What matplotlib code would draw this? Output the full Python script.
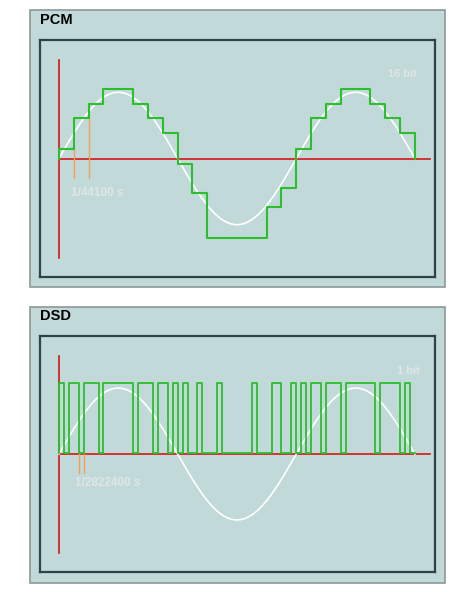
import matplotlib
matplotlib.use('Agg')
import matplotlib.pyplot as plt
import numpy as np
from matplotlib.patches import Rectangle

plt.rcParams['font.family'] = ['Liberation Sans', 'DejaVu Sans']

# signal: 1.5 periods of a sine, time in periods
n_periods = 1.5
# PCM: 16 samples per period, held levels (sine amplitude = 1)
pcm_rate = 16
pcm_levels = [0.15, 0.61, 0.82, 1.05, 1.05, 0.82, 0.61, 0.38,
              -0.08, -0.52, -1.2, -1.2, -1.2, -1.2, -0.74, -0.45,
              0.15, 0.61, 0.82, 1.05, 1.05, 0.82, 0.61, 0.38]
# DSD: 48 bits per period
dsd_rate = 48
dsd_bits = [1, 0, 1, 1, 0, 1, 1, 1, 0, 1, 1, 1, 1, 1, 1, 0, 1, 1, 1, 0,
            1, 1, 0, 1, 0, 1, 0, 0, 1, 0, 0, 0, 1, 0, 0, 0, 0, 0, 0, 1,
            0, 0, 0, 1, 1, 0, 0, 1, 0, 1, 0, 1, 1, 0, 1, 1, 1, 0, 1, 1,
            1, 1, 1, 1, 0, 1, 1, 1, 1, 0, 1, 0]
dsd_high = 1.05

titles = ['PCM', 'DSD']
time_labels = ['1/44100 s', '1/2822400 s']
bit_labels = ['16 bit', '1 bit']

panel_bg = '#c1d9d9'
green = '#2cbf2c'
red = '#d41818'
orange = '#f5a050'
label_col = '#e0e6e6'

W, H = 474, 592
fig = plt.figure(figsize=(W / 100, H / 100), dpi=100)
fig.patch.set_facecolor('white')


def fx(px):
    return px / W


def fy(py):
    return 1 - py / H


# outer panels (pixel boxes: left, top, right, bottom)
outer = [(30, 10, 445, 287), (30, 307, 445, 583)]
inner = [(40, 40, 435, 277), (40, 336, 435, 572)]
title_y = [20, 316]

t_sine = np.linspace(0, n_periods, 400)
y_sine = np.sin(2 * np.pi * t_sine)

axes = []
for i in range(2):
    l, t, r, b = outer[i]
    fig.patches.append(Rectangle((fx(l), fy(b)), fx(r - l), (b - t) / H,
                                 transform=fig.transFigure, facecolor=panel_bg,
                                 edgecolor='#8e9898', linewidth=1.2, zorder=-1))
    l, t, r, b = inner[i]
    ax = fig.add_axes([fx(l), fy(b), fx(r - l), (b - t) / H])
    ax.set_facecolor(panel_bg)
    for s in ax.spines.values():
        s.set_color('#2f4343')
        s.set_linewidth(1.6)
    ax.set_xticks([])
    ax.set_yticks([])
    ax.set_xlim(-0.080, 1.5845)
    ax.set_ylim(-1.79, 1.79)
    # axes lines
    ax.plot([0, 1.563], [0, 0], color=red, lw=1.2, zorder=1)
    ax.plot([0, 0], [-1.5, 1.49], color=red, lw=1.2, zorder=1)
    ax.plot(t_sine, y_sine, color='white', lw=1.2, zorder=2)
    fig.text(fx(40), fy(title_y[i]), titles[i], fontsize=10.5, fontweight='bold',
             color='black', va='center', ha='left')
    axes.append(ax)

# PCM staircase
ax = axes[0]
edges = np.arange(len(pcm_levels) + 1) / pcm_rate
xs = np.repeat(edges, 2)
ys = np.concatenate([[0], np.repeat(pcm_levels, 2), [0]])
ax.plot(xs, ys, color=green, lw=1.5, zorder=3)
ax.plot([1 / pcm_rate, 1 / pcm_rate], [pcm_levels[0], -0.29], color=orange, lw=1.0, zorder=1.5)
ax.plot([2 / pcm_rate, 2 / pcm_rate], [pcm_levels[1], -0.29], color=orange, lw=1.0, zorder=1.5)
ax.text(0.05, -0.515, time_labels[0], color=label_col, fontsize=8.5,
        fontweight='bold', va='center', ha='left')
ax.text(1.386, 1.27, bit_labels[0], color=label_col, fontsize=8,
        fontweight='bold', va='center', ha='left')

# DSD pulse train
ax = axes[1]
edges = np.arange(len(dsd_bits) + 1) / dsd_rate
xs = np.repeat(edges, 2)
ys = np.concatenate([[0], np.repeat(np.array(dsd_bits) * dsd_high, 2), [0]])
ax.plot(xs, ys + 0.02, color=green, lw=1.3, zorder=3)
ax.plot([4 / dsd_rate, 4 / dsd_rate], [0, -0.29], color=orange, lw=1.0, zorder=1.5)
ax.plot([5 / dsd_rate, 5 / dsd_rate], [0, -0.29], color=orange, lw=1.0, zorder=1.5)
ax.text(0.067, -0.44, time_labels[1], color=label_col, fontsize=8.5,
        fontweight='bold', va='center', ha='left')
ax.text(1.424, 1.258, bit_labels[1], color=label_col, fontsize=8,
        fontweight='bold', va='center', ha='left')

fig.savefig('out.png', dpi=100, facecolor='white')
